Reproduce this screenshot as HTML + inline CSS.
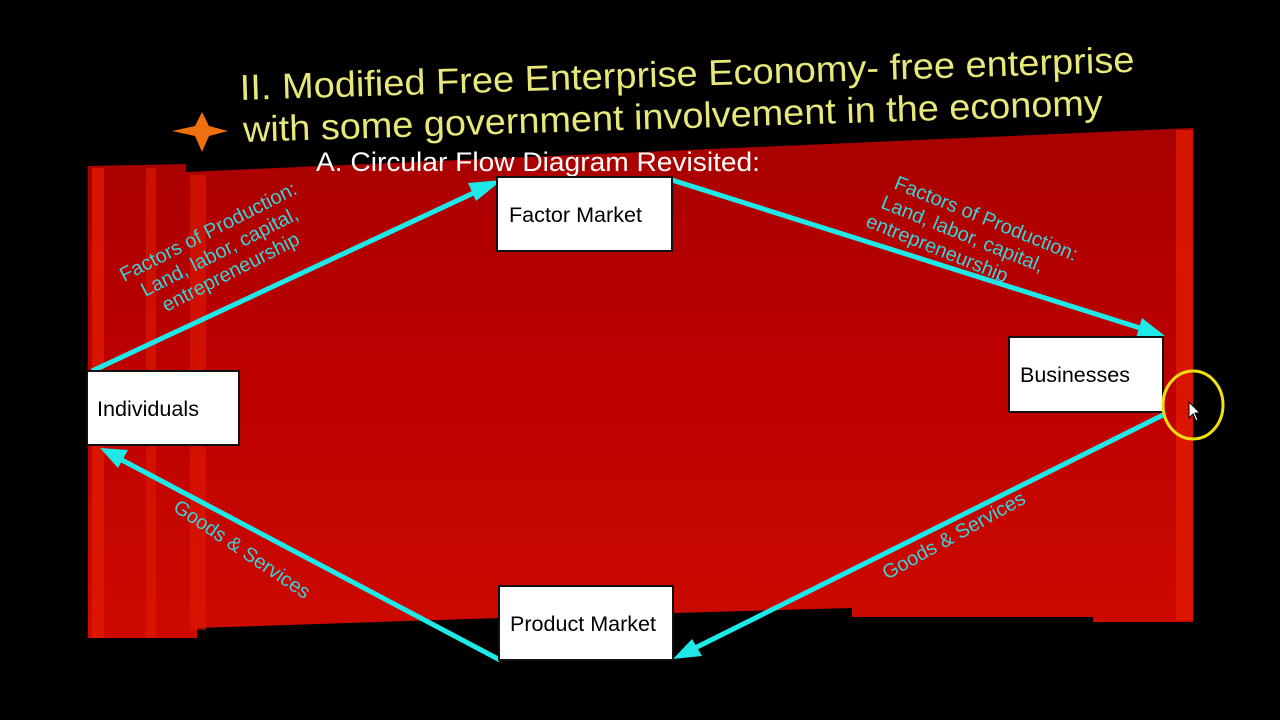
<!DOCTYPE html>
<html><head><meta charset="utf-8"><style>
html,body{margin:0;padding:0;background:#000;width:1280px;height:720px;overflow:hidden}
svg{display:block}
</style></head><body>
<svg width="1280" height="720" viewBox="0 0 1280 720" xmlns="http://www.w3.org/2000/svg" font-family="Liberation Sans, sans-serif">
<defs>
<linearGradient id="rg" x1="0" y1="0" x2="0" y2="1">
<stop offset="0" stop-color="#a80000"/><stop offset="0.5" stop-color="#bd0000"/><stop offset="1" stop-color="#cc0a00"/>
</linearGradient>
</defs>
<rect width="1280" height="720" fill="#000"/>
<polygon points="88,166 186,164 186,172 1193,128 1193,622 1093,622 1093,617 852,617 852,608 500,618 197,628 197,638 88,638" fill="url(#rg)"/>
<rect x="92" y="168" width="12" height="470" fill="#e01a00" opacity="0.8"/>
<rect x="146" y="168" width="10" height="470" fill="#e01a00" opacity="0.6"/>
<rect x="190" y="175" width="16" height="455" fill="#e01a00" opacity="0.6"/>
<rect x="1176" y="130" width="17" height="490" fill="#e01a00" opacity="0.8"/>
<g fill="#e8e87a" font-size="36" transform="rotate(-1.8 240 95)">
<text x="240" y="100" textLength="895" lengthAdjust="spacingAndGlyphs">II.  Modified Free Enterprise Economy- free enterprise</text>
<text x="242" y="142" textLength="860" lengthAdjust="spacingAndGlyphs">with some government involvement in the economy</text>
</g>
<polygon points="202,112 209,126 228,131 209,136 202,152 195,136 172,131 195,126" fill="#f07010"/>
<text x="316" y="171" fill="#fff" font-size="27" textLength="444" lengthAdjust="spacingAndGlyphs">A.  Circular Flow Diagram Revisited:</text>
<g stroke="#1ee8e8" stroke-width="5" fill="none">
<line x1="92" y1="371" x2="480" y2="190"/>
<line x1="672" y1="180" x2="1140" y2="328"/>
<line x1="1163" y1="415" x2="695" y2="648"/>
<line x1="500" y1="660" x2="118" y2="458"/>
</g>
<g fill="#1ee8e8">
<polygon points="502,180 476,201 468,183"/>
<polygon points="1165,336 1136,338 1142,318"/>
<polygon points="673,659 692,639 702,656"/>
<polygon points="100,448 128,450 118,468"/>
</g>
<g fill="#fff" stroke="#111" stroke-width="2">
<rect x="497" y="177" width="175" height="74"/>
<rect x="87" y="371" width="152" height="74"/>
<rect x="1009" y="337" width="154" height="75"/>
<rect x="499" y="586" width="174" height="74"/>
</g>
<g fill="#000" font-size="21">
<text x="509" y="222" textLength="133" lengthAdjust="spacingAndGlyphs">Factor Market</text>
<text x="97" y="416" textLength="102" lengthAdjust="spacingAndGlyphs">Individuals</text>
<text x="1020" y="382" textLength="110" lengthAdjust="spacingAndGlyphs">Businesses</text>
<text x="510" y="631" textLength="146" lengthAdjust="spacingAndGlyphs">Product Market</text>
</g>
<g fill="#3fd0d6" font-size="20">
<g transform="translate(124,282) rotate(-27)">
<text x="0" y="0">Factors of Production:</text>
<text x="12" y="23">Land, labor, capital,</text>
<text x="24" y="46">entrepreneurship</text>
</g>
<g transform="translate(893,188) rotate(22)">
<text x="0" y="0">Factors of Production:</text>
<text x="-5" y="23">Land, labor, capital,</text>
<text x="-12" y="46">entrepreneurship</text>
</g>
<text transform="translate(887,580) rotate(-29)" x="0" y="0">Goods &amp; Services</text>
<text transform="translate(172,510) rotate(34)" x="0" y="0">Goods &amp; Services</text>
</g>
<ellipse cx="1193" cy="405" rx="30" ry="34" fill="none" stroke="#f0e010" stroke-width="3"/>
<polygon points="1189,402 1189,418 1193,414 1196,421 1198,420 1195,413 1200,413" fill="#fff" stroke="#000" stroke-width="1"/>
</svg>
</body></html>
